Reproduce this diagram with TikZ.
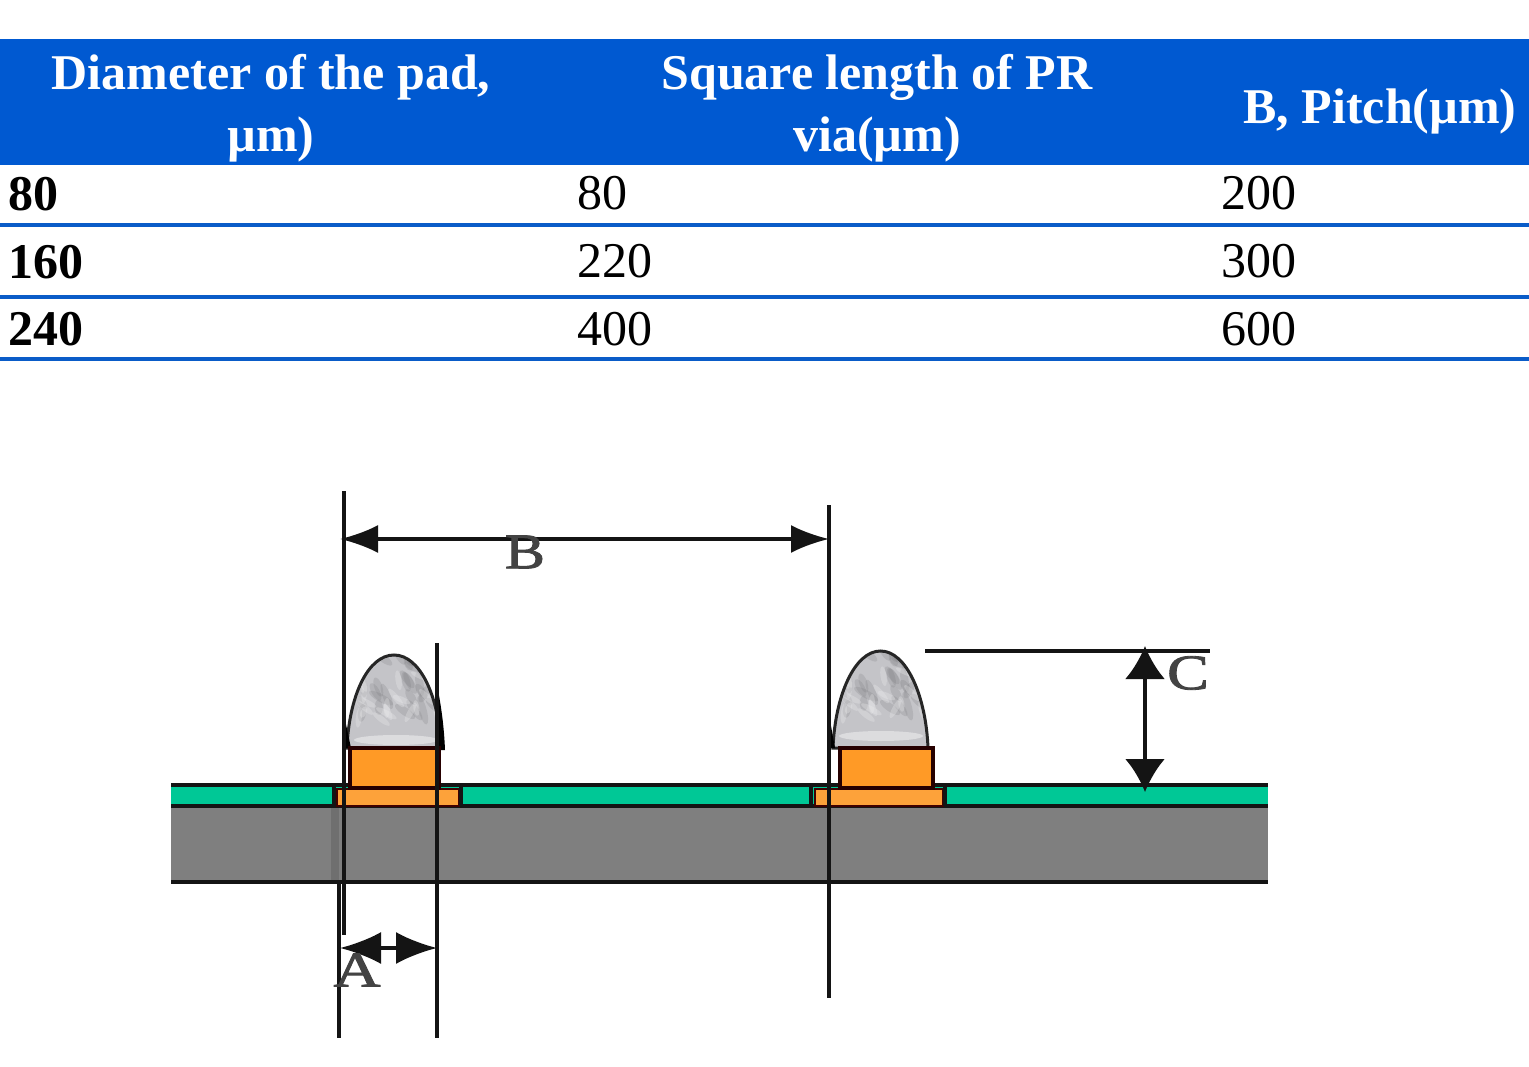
\documentclass[tikz,border=0pt]{standalone}
\usepackage{fontspec}
\setmainfont{Liberation Serif}
\newfontfamily\dimfont[FakeBold=1.6]{Liberation Serif}
\usetikzlibrary{arrows.meta}
\definecolor{headblue}{HTML}{0059D1}
\definecolor{ruleblue}{HTML}{0A5CC8}
\definecolor{bandgreen}{HTML}{00C896}
\definecolor{basegray}{HTML}{7F7F7F}
\definecolor{padorange}{HTML}{FF9A26}
\definecolor{padpale}{HTML}{F8B060}
\definecolor{linedark}{HTML}{141414}
\definecolor{bumpgray}{HTML}{C4C4C8}
\definecolor{blobgray}{HTML}{78787C}
\definecolor{blobpale}{HTML}{ECECEE}
\tikzset{
  x=1pt,y=-1pt,
  headtext/.style={font=\fontsize{50}{62}\selectfont\bfseries,text=white,align=center,inner sep=0pt},
  celltext/.style={font=\fontsize{50}{54}\selectfont,text=black,anchor=base west,inner sep=0pt},
  boldcell/.style={celltext,font=\fontsize{50}{54}\selectfont\bfseries},
  tablerule/.style={draw=ruleblue,line width=4pt},
  guide/.style={draw=linedark,line width=4.4pt},
  thinedge/.style={draw=linedark,line width=3.4pt},
  dimline/.style={draw=linedark,line width=3.4pt,{Latex[length=38pt,width=28pt]}-{Latex[length=38pt,width=28pt]}},
  dimlabel/.style={font=\dimfont\fontsize{50}{50}\selectfont,text=linedark!80,inner sep=0pt},
  padbox/.style={fill=padorange,draw=black!85!red,line width=3.6pt},
  lowpad/.style={fill=padorange!65!padpale,draw=black!75!red,line width=2.6pt},
  bumpout/.style={draw=black!85,line width=3pt},
}
\newcommand{\bumpshape}[3]{% left x, right x, peak y
  (#1,748) .. controls (#1+2,696) and ({(#1+#2)/2-26},#3) .. ({(#1+#2)/2},#3)
  .. controls ({(#1+#2)/2+26},#3) and (#2-2,696) .. (#2,748) -- cycle}
\newcommand{\bumptexture}[2]{% centre x, centre y
  \begin{scope}[shift={(#1,#2)}]
    \pgfmathsetseed{11}
    \foreach \k in {1,...,45}{
      \pgfmathsetmacro{\px}{44*rand}
      \pgfmathsetmacro{\py}{-22+46*rand}
      \pgfmathsetmacro{\ang}{-70+50*rand}
      \pgfmathsetmacro{\rx}{7+8*rnd}
      \fill[blobgray,opacity=.22] (\px,\py) ellipse [x radius=\rx pt,y radius=4pt,rotate=\ang];
    }
    \foreach \k in {1,...,40}{
      \pgfmathsetmacro{\px}{46*rand}
      \pgfmathsetmacro{\py}{-30+54*rand}
      \pgfmathsetmacro{\ang}{-70+50*rand}
      \pgfmathsetmacro{\rx}{6+8*rnd}
      \fill[blobpale,opacity=.3] (\px,\py) ellipse [x radius=\rx pt,y radius=3pt,rotate=\ang];
    }
    \fill[blobpale,opacity=.6] (0,44) ellipse [x radius=42pt,y radius=5pt];
  \end{scope}}
\begin{document}
\begin{tikzpicture}
\useasboundingbox (0,0) rectangle (1529,1067);
\fill[white] (0,0) rectangle (1529,1067);
% table header
\fill[headblue] (0,39) rectangle (1529,165);
\node[headtext] (h1) at (271,108) {Diameter of the pad,\\µm)};
\node[headtext] (h2) at (877,108) {Square length of PR\\via(µm)};
\node[headtext] (h3) at (1380,111) {B, Pitch(µm)};
% rows
\node[boldcell] (a1) at (8,211) {80};
\node[celltext] (b1) at (577,210) {80};
\node[celltext] (c1) at (1221,210) {200};
\node[boldcell] (a2) at (8,279) {160};
\node[celltext] (b2) at (577,278) {220};
\node[celltext] (c2) at (1221,278) {300};
\node[boldcell] (a3) at (8,345) {240};
\node[celltext] (b3) at (577,345) {400};
\node[celltext] (c3) at (1221,345) {600};
\draw[tablerule] (0,225) -- (1529,225);
\draw[tablerule] (0,297.5) -- (1529,297.5);
\draw[tablerule] (0,358.5) -- (1529,358.5);
% substrate
\fill[basegray] (171,806) rectangle (1268,882);
\fill[bandgreen] (171,785) rectangle (1268,806);
\draw[thinedge] (171,785) -- (1268,785);
\draw[thinedge] (171,806) -- (1268,806);
\draw[thinedge] (171,882) -- (1268,882);
\fill[linedark,opacity=.15] (331,806) rectangle (339,882);
% left bump and pads
\fill[bumpgray] \bumpshape{347}{441}{655};
\begin{scope}
  \clip \bumpshape{347}{441}{655};
  \bumptexture{396}{696}
\end{scope}
\draw[bumpout] \bumpshape{347}{441}{655};
\fill[black] (344,715) -- (351,748) -- (344,748) -- cycle;
\fill[black] (437,685) .. controls (441,705) and (444,725) .. (445,750) -- (437,750) -- cycle;
\draw[lowpad] (337,789) rectangle (459,806);
\draw[padbox] (350,748) rectangle (439,788);
% right bump and pads
\fill[bumpgray] \bumpshape{833}{928}{651};
\begin{scope}
  \clip \bumpshape{833}{928}{651};
  \bumptexture{881}{692}
\end{scope}
\draw[bumpout] \bumpshape{833}{928}{651};
\fill[black] (829,715) -- (835,748) -- (829,748) -- cycle;
\draw[lowpad] (815,789) rectangle (943,806);
\draw[padbox] (840,748) rectangle (933,788);
% gaps in the green band
\draw[thinedge] (334,785) -- (334,806);
\draw[thinedge] (811,785) -- (811,806);
\draw[thinedge] (461,785) -- (461,806);
\draw[thinedge] (945,785) -- (945,806);
% guides
\coordinate (g1t) at (344,491); \coordinate (g1b) at (344,935);
\coordinate (g2t) at (339,880); \coordinate (g2b) at (339,1038);
\coordinate (g3t) at (437,643); \coordinate (g3b) at (437,1038);
\coordinate (g4t) at (829,505); \coordinate (g4b) at (829,998);
\coordinate (g5l) at (925,651); \coordinate (g5r) at (1210,651);
\draw[guide] (g1t) -- (g1b);
\draw[guide] (g2t) -- (g2b);
\draw[guide] (g3t) -- (g3b);
\draw[guide] (g4t) -- (g4b);
\draw[guide,line width=3.4pt] (g5l) -- (g5r);
% dimensions
\coordinate (bl) at (340,539); \coordinate (br) at (829,539);
\coordinate (cu) at (1145,646); \coordinate (cd) at (1145,792);
\coordinate (al) at (340,948); \coordinate (ar) at (437,948);
\draw[dimline] (bl) -- (br);
\draw[dimline,{Latex[length=33pt,width=40pt]}-{Latex[length=33pt,width=40pt]}] (cu) -- (cd);
\draw[dimline,{Latex[length=41pt,width=32pt]}-{Latex[length=41pt,width=32pt]}] (al) -- (ar);
\node[dimlabel] (lb) at (525,552) {\scalebox{1.2}[1]{B}};
\node[dimlabel] (lc) at (1188,673) {\scalebox{1.25}[1]{C}};
\node[dimlabel] (la) at (357,970) {\scalebox{1.3}[1]{A}};
\end{tikzpicture}
\end{document}
